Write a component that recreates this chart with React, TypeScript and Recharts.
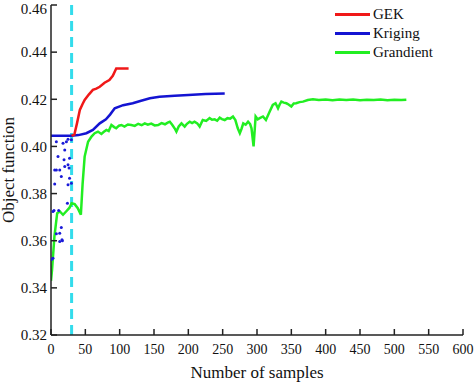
import {
  ComposedChart,
  Line,
  Scatter,
  XAxis,
  YAxis,
  ReferenceLine,
} from "recharts";

// values
const gekX = [30, 34, 38, 42, 46, 49, 55, 61, 66, 71, 78, 85, 90, 95, 100, 105, 113];
const gekY = [0.4045, 0.405, 0.41, 0.4155, 0.418, 0.4197, 0.422, 0.424, 0.4245, 0.4253, 0.427, 0.4282, 0.43, 0.4331, 0.4331, 0.4331, 0.4331];

const krigX = [0, 10, 20, 30, 40, 51.5, 61, 71, 80, 86, 92.8, 105, 119, 130, 144, 158, 180, 200, 225, 253];
const krigY = [0.4045, 0.4045, 0.4045, 0.4045, 0.4048, 0.4056, 0.407, 0.4098, 0.4115, 0.4135, 0.4162, 0.4175, 0.4183, 0.4193, 0.4204, 0.4211, 0.4215, 0.4218, 0.4222, 0.4225];

const gradX = [
  0, 1.5, 5, 9, 13, 17.5, 22, 27, 30, 34.5, 39, 43.5, 46, 49, 54, 59, 63.6, 68.4, 73.4, 77,
  80.7, 84, 88, 92, 95, 99, 102.5, 107, 112, 117, 122, 127, 132, 136.5, 141, 146, 151, 156, 161, 166,
  170, 173, 176.5, 180, 182.6, 186, 190, 194.7, 198, 202, 205.5, 209, 213, 216.5, 221, 226, 231, 234.5, 238.4, 242,
  245.7, 249, 253, 257, 261, 265, 268.5, 272, 275, 277.5, 280, 283.5, 287, 290, 292, 295, 298, 301, 304, 308.7,
  313, 318.5, 323, 327, 330.6, 333, 335.5, 339, 342.8, 346, 350, 353.5, 357, 362, 367, 374, 381.5, 390, 400, 410,
  420, 430, 440, 450, 460, 470, 480, 490, 500, 510, 517.5,
];
const gradY = [
  0.343, 0.3476, 0.3618, 0.3717, 0.3724, 0.371, 0.3724, 0.374, 0.3759, 0.3755, 0.3738, 0.371, 0.384, 0.3957, 0.402, 0.4042, 0.4056, 0.4063, 0.4053, 0.4062,
  0.407, 0.4065, 0.4091, 0.4082, 0.4077, 0.4088, 0.4091, 0.4084, 0.4093, 0.4091, 0.4087, 0.4096, 0.409, 0.4098, 0.4092, 0.4097, 0.4089, 0.4091, 0.4099, 0.4094,
  0.4101, 0.4105, 0.4092, 0.4077, 0.4063, 0.4085, 0.4098, 0.4084, 0.4096, 0.4105, 0.4099, 0.4105, 0.4098, 0.4084, 0.4112, 0.4108, 0.412, 0.4113, 0.4115, 0.4109,
  0.4122, 0.4116, 0.4112, 0.412, 0.4118, 0.4127, 0.4112, 0.4077, 0.4056, 0.4075, 0.4098, 0.4092, 0.4105, 0.4095, 0.4077, 0.4, 0.4127, 0.4115, 0.412, 0.4127,
  0.4112, 0.4148, 0.4176, 0.4183, 0.4162, 0.4178, 0.419, 0.4186, 0.4183, 0.4178, 0.4169, 0.4182, 0.4183, 0.4188, 0.419, 0.4197, 0.42, 0.4197, 0.4199, 0.4196,
  0.4199, 0.4197, 0.4199, 0.4196, 0.4198, 0.4197, 0.4199, 0.4196, 0.4198, 0.4197, 0.4198,
];

// kriging sampling points before the cut line
const dotX = [0.6, 2.9, 2.9, 4.4, 5.4, 5.4, 7.8, 7.8, 7.8, 10.2, 11.2, 12.7, 12.7, 12.7, 15, 15, 16, 16.6, 17.5, 19, 20, 20, 22.4, 23.9, 24.8, 24.8, 24.8, 26.3, 27, 27, 29.7, 29.7];
const dotY = [0.352, 0.3526, 0.3724, 0.3728, 0.39, 0.3841, 0.402, 0.39, 0.363, 0.3957, 0.3728, 0.39, 0.3632, 0.3597, 0.3872, 0.3656, 0.3604, 0.36, 0.4013, 0.3943, 0.3985, 0.3915, 0.402, 0.3759, 0.403, 0.3922, 0.3837, 0.3908, 0.395, 0.3865, 0.4028, 0.3844];

const xTicks = [0, 50, 100, 150, 200, 250, 300, 350, 400, 450, 500, 550, 600];
const yTicks = [0.32, 0.34, 0.36, 0.38, 0.4, 0.42, 0.44, 0.46];

const legendItems = [
  { name: "GEK", color: "#f01818" },
  { name: "Kriging", color: "#1414d2" },
  { name: "Grandient", color: "#22ee22" },
];

const zip = (xs: number[], ys: number[]) => xs.map((x, i) => ({ x, y: ys[i] }));

const gekData = zip(gekX, gekY);
const krigData = zip(krigX, krigY);
const gradData = zip(gradX, gradY);
const dotData = zip(dotX, dotY);

const FONT = "'Times New Roman', Tinos, 'Liberation Serif', 'DejaVu Serif', 'Noto Serif', FreeSerif, Times, serif";
const AXIS = "#222";

function LegendBox() {
  return (
    <div
      style={{
        position: "absolute",
        left: 335,
        top: 5,
        fontFamily: FONT,
        fontSize: 15,
        color: "#111",
      }}
    >
      {legendItems.map((it) => (
        <div key={it.name} style={{ display: "flex", alignItems: "center", height: 19 }}>
          <span style={{ width: 35, height: 3, background: it.color, marginRight: 3 }} />
          <span>{it.name}</span>
        </div>
      ))}
    </div>
  );
}

export default function App() {
  return (
    <div style={{ position: "absolute", left: 0, top: 0, width: 474, height: 385, background: "#fff" }}>
      <ComposedChart width={474} height={385} margin={{ top: 5, right: 11, left: 0, bottom: 0 }}>
        <XAxis
          type="number"
          dataKey="x"
          domain={[0, 600]}
          ticks={xTicks}
          height={50}
          tickSize={-6}
          tickMargin={15}
          axisLine={{ stroke: AXIS, strokeWidth: 1.5 }}
          tickLine={{ stroke: AXIS, strokeWidth: 1.5 }}
          tick={{ fill: "#111", fontSize: 14, fontFamily: FONT }}
          allowDataOverflow
          label={{
            content: () => (
              <text x={257} y={378} textAnchor="middle" fontSize={17} fontFamily={FONT} fill="#111">
                Number of samples
              </text>
            ),
          }}
        />
        <YAxis
          type="number"
          domain={[0.32, 0.46]}
          ticks={yTicks}
          width={51}
          tickSize={-6}
          tickMargin={10}
          tickFormatter={(v) => v.toFixed(2)}
          axisLine={{ stroke: AXIS, strokeWidth: 1.5 }}
          tickLine={{ stroke: AXIS, strokeWidth: 1.5 }}
          tick={{ fill: "#111", fontSize: 15, fontFamily: FONT }}
          allowDataOverflow
          label={{
            content: () => (
              <text
                x={14}
                y={170}
                transform="rotate(-90 14 170)"
                textAnchor="middle"
                fontSize={17}
                fontFamily={FONT}
                fill="#111"
              >
                Object function
              </text>
            ),
          }}
        />
        <ReferenceLine x={30} stroke="#33dcec" strokeWidth={3} strokeDasharray="10 6" />
        <Scatter
          data={dotData}
          dataKey="y"
          fill="#1a1ad8"
          isAnimationActive={false}
          shape={(p: any) => <circle cx={p.cx} cy={p.cy} r={1.5} fill="#1a1ad8" />}
        />
        <Line
          data={gradData}
          dataKey="y"
          type="linear"
          stroke="#22ee22"
          strokeWidth={2.5}
          dot={false}
          name="Grandient"
          isAnimationActive={false}
        />
        <Line
          data={krigData}
          dataKey="y"
          type="linear"
          stroke="#1414d2"
          strokeWidth={2.5}
          dot={false}
          name="Kriging"
          isAnimationActive={false}
        />
        <Line
          data={gekData}
          dataKey="y"
          type="linear"
          stroke="#f01818"
          strokeWidth={2.5}
          dot={false}
          name="GEK"
          isAnimationActive={false}
        />
      </ComposedChart>
      <LegendBox />
    </div>
  );
}
